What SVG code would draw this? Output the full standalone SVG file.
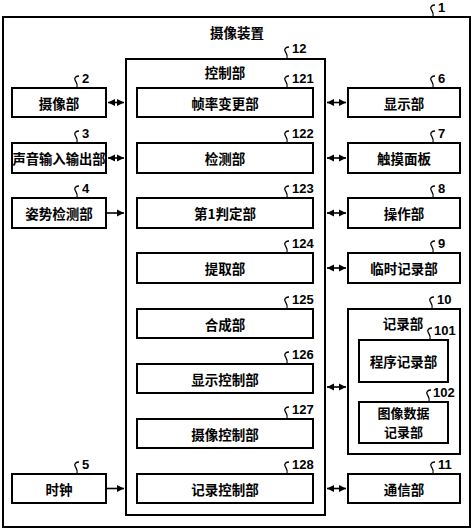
<svg xmlns="http://www.w3.org/2000/svg" xmlns:xlink="http://www.w3.org/1999/xlink" width="474" height="530" viewBox="0 0 474 530">
<style>
.box{fill:#fff;stroke:#000;stroke-width:2}
.t{font-family:"Noto Sans CJK SC","Noto Sans CJK JP",sans-serif;font-size:13.5px;font-weight:bold;text-anchor:middle;dominant-baseline:central;fill:#000}
.t2{font-size:13px}
.n{font-family:"Liberation Sans",Arial,sans-serif;font-size:13px;font-weight:bold;fill:#000}
.sq{fill:none;stroke:#000;stroke-width:1.3}
.ar{stroke:#000;stroke-width:1.6;fill:none}
</style>
<defs>
<path id="sq" class="sq" d="M2,-12 C-1,-12 -3,-10 -2,-8 C-1,-6 1,-5 0,0"/>
<marker id="ah" viewBox="0 0 8 8" refX="8" refY="4" markerWidth="4.5" markerHeight="4.5" orient="auto-start-reverse" markerUnits="strokeWidth">
<path d="M0,0 L8,4 L0,8 z" fill="#000"/>
</marker>
</defs>
<rect width="474" height="530" fill="#fff"/>
<g id="n1">
<rect class="box" x="3" y="17" width="467" height="510"/>
<text class="t" x="237" y="32">摄像装置</text>
<use xlink:href="#sq" x="433" y="17"/><text class="n" x="438" y="12">1</text>
</g>
<g id="n12">
<rect class="box" x="126" y="59" width="199" height="456"/>
<text class="t" x="225" y="72">控制部</text>
<use xlink:href="#sq" x="287" y="59"/><text class="n" x="292" y="53">12</text>
</g>
<g id="n121"><rect class="box" x="137" y="88" width="176" height="29"/><text class="t" x="225" y="102.5">帧率变更部</text><use xlink:href="#sq" x="287" y="88"/><text class="n" x="292" y="83">121</text></g>
<g id="n122"><rect class="box" x="137" y="143" width="176" height="30"/><text class="t" x="225" y="158">检测部</text><use xlink:href="#sq" x="287" y="143"/><text class="n" x="292" y="138">122</text></g>
<g id="n123"><rect class="box" x="137" y="198" width="176" height="30"/><text class="t" x="225" y="213">第1判定部</text><use xlink:href="#sq" x="287" y="198"/><text class="n" x="292" y="193">123</text></g>
<g id="n124"><rect class="box" x="137" y="253" width="176" height="30"/><text class="t" x="225" y="268">提取部</text><use xlink:href="#sq" x="287" y="253"/><text class="n" x="292" y="248">124</text></g>
<g id="n125"><rect class="box" x="137" y="309" width="176" height="29"/><text class="t" x="225" y="323.5">合成部</text><use xlink:href="#sq" x="287" y="309"/><text class="n" x="292" y="304">125</text></g>
<g id="n126"><rect class="box" x="137" y="364" width="176" height="29"/><text class="t" x="225" y="378.5">显示控制部</text><use xlink:href="#sq" x="287" y="364"/><text class="n" x="292" y="359">126</text></g>
<g id="n127"><rect class="box" x="137" y="419" width="176" height="29"/><text class="t" x="225" y="433.5">摄像控制部</text><use xlink:href="#sq" x="287" y="419"/><text class="n" x="292" y="414">127</text></g>
<g id="n128"><rect class="box" x="137" y="474" width="176" height="29"/><text class="t" x="225" y="488.5">记录控制部</text><use xlink:href="#sq" x="287" y="474"/><text class="n" x="292" y="469">128</text></g>
<g id="n2"><rect class="box" x="12" y="88" width="94" height="29"/><text class="t" x="59" y="102.5">摄像部</text><use xlink:href="#sq" x="77" y="88"/><text class="n" x="82" y="83">2</text></g>
<g id="n3"><rect class="box" x="12" y="143" width="94" height="30"/><text class="t" x="59" y="158" textLength="93" lengthAdjust="spacingAndGlyphs">声音输入输出部</text><use xlink:href="#sq" x="77" y="143"/><text class="n" x="82" y="138">3</text></g>
<g id="n4"><rect class="box" x="12" y="198" width="94" height="30"/><text class="t" x="59" y="213">姿势检测部</text><use xlink:href="#sq" x="77" y="198"/><text class="n" x="82" y="193">4</text></g>
<g id="n5"><rect class="box" x="12" y="474" width="94" height="29"/><text class="t" x="59" y="488.5">时钟</text><use xlink:href="#sq" x="77" y="474"/><text class="n" x="82" y="469">5</text></g>
<g id="n6"><rect class="box" x="348" y="88" width="112" height="29"/><text class="t" x="404" y="102.5">显示部</text><use xlink:href="#sq" x="433" y="88"/><text class="n" x="438" y="83">6</text></g>
<g id="n7"><rect class="box" x="348" y="143" width="112" height="30"/><text class="t" x="404" y="158">触摸面板</text><use xlink:href="#sq" x="433" y="143"/><text class="n" x="438" y="138">7</text></g>
<g id="n8"><rect class="box" x="348" y="198" width="112" height="30"/><text class="t" x="404" y="213">操作部</text><use xlink:href="#sq" x="433" y="198"/><text class="n" x="438" y="193">8</text></g>
<g id="n9"><rect class="box" x="348" y="253" width="112" height="30"/><text class="t" x="404" y="268">临时记录部</text><use xlink:href="#sq" x="433" y="253"/><text class="n" x="438" y="248">9</text></g>
<g id="n10"><rect class="box" x="348" y="309" width="112" height="145"/><text class="t" x="403" y="323">记录部</text><use xlink:href="#sq" x="432" y="309"/><text class="n" x="437" y="304">10</text></g>
<g id="n101"><rect class="box" x="359" y="340" width="89" height="42"/><text class="t" x="403.5" y="361">程序记录部</text><use xlink:href="#sq" x="430" y="340"/><text class="n" x="434" y="335">101</text></g>
<g id="n102"><rect class="box" x="359" y="402" width="89" height="41"/><text class="t t2" x="403.5" y="412">图像数据</text><text class="t t2" x="403.5" y="431">记录部</text><use xlink:href="#sq" x="429" y="402"/><text class="n" x="433" y="397">102</text></g>
<g id="n11"><rect class="box" x="348" y="474" width="112" height="29"/><text class="t" x="404" y="488.5">通信部</text><use xlink:href="#sq" x="433" y="474"/><text class="n" x="438" y="469">11</text></g>
<g id="connectors">
<line class="ar" x1="108" y1="102.5" x2="124" y2="102.5" marker-start="url(#ah)" marker-end="url(#ah)"/>
<line class="ar" x1="108" y1="158" x2="124" y2="158" marker-start="url(#ah)" marker-end="url(#ah)"/>
<line class="ar" x1="107" y1="213" x2="124" y2="213" marker-end="url(#ah)"/>
<line class="ar" x1="107" y1="488.5" x2="124" y2="488.5" marker-end="url(#ah)"/>
<line class="ar" x1="327" y1="102.5" x2="346" y2="102.5" marker-start="url(#ah)" marker-end="url(#ah)"/>
<line class="ar" x1="327" y1="158" x2="346" y2="158" marker-start="url(#ah)" marker-end="url(#ah)"/>
<line class="ar" x1="327" y1="213" x2="346" y2="213" marker-start="url(#ah)" marker-end="url(#ah)"/>
<line class="ar" x1="327" y1="268" x2="346" y2="268" marker-start="url(#ah)" marker-end="url(#ah)"/>
<line class="ar" x1="327" y1="387" x2="346" y2="387" marker-start="url(#ah)" marker-end="url(#ah)"/>
<line class="ar" x1="327" y1="488.5" x2="346" y2="488.5" marker-start="url(#ah)" marker-end="url(#ah)"/>
</g>
</svg>
